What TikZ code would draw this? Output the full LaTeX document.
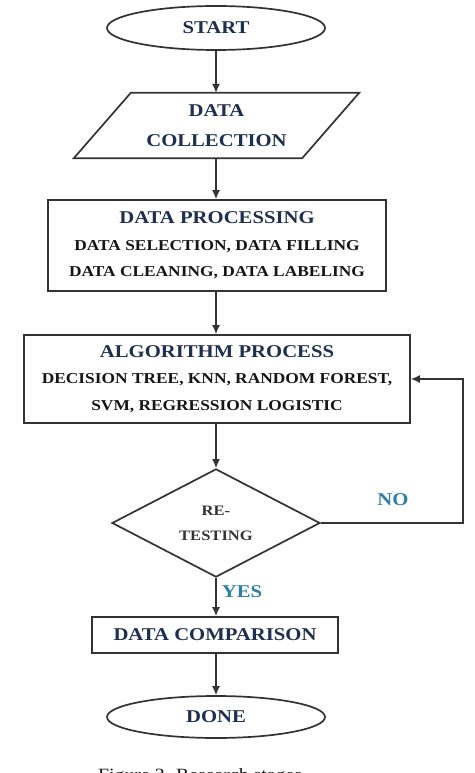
\documentclass[tikz,border=0pt]{standalone}
\usepackage{fontspec}
\setmainfont{Liberation Serif}[FakeStretch=1.15]
\usetikzlibrary{shapes.geometric,arrows.meta}
\definecolor{navy}{HTML}{1F2F4F}
\definecolor{ink}{HTML}{151515}
\definecolor{lineg}{HTML}{333333}
\definecolor{teal}{HTML}{2E80A6}
\tikzset{
  shapeline/.style={draw=lineg, line width=1.7pt},
  term/.style={shapeline, ellipse, inner sep=0pt, text=navy, font=\bfseries\fontsize{18}{20}\selectfont},
  procbox/.style={shapeline, rectangle, inner sep=0pt, align=center, text=ink, font=\bfseries\fontsize{15.1}{26.5}\selectfont},
  plain/.style={inner sep=0pt, align=center},
  decide/.style={shapeline, diamond, inner sep=0pt, align=center, text=lineg, font=\bfseries\fontsize{14.4}{25}\selectfont},
  flow/.style={draw=lineg, line width=1.4pt, -{Latex[length=9pt,width=8pt]}},
  answer/.style={text=teal, font=\bfseries\fontsize{18}{20}\selectfont, inner sep=0pt},
}
\newcommand{\bigttl}[1]{{\color{navy}\fontsize{18}{26.5}\selectfont #1}}
\begin{document}
\begin{tikzpicture}[x=1pt,y=-1pt]
\useasboundingbox (0,0) rectangle (474,773);
\fill[white] (0,0) rectangle (474,773);

\node[term, minimum width=218pt, minimum height=44pt] (start) at (216,28) {START};

\node[plain, minimum width=228pt, minimum height=65pt, text=navy,
      font=\bfseries\fontsize{18}{30}\selectfont] (coll) at (216.5,125.5) {DATA\\COLLECTION};
\draw[shapeline, line join=miter] ([xshift=28.5pt]coll.north west) -- ([xshift=28.5pt]coll.north east)
  -- ([xshift=-28.5pt]coll.south east) -- ([xshift=-28.5pt]coll.south west) -- cycle;

\node[procbox, minimum width=338pt, minimum height=91pt] (proc) at (217,245.5)
  {\bigttl{DATA PROCESSING}\\DATA SELECTION, DATA FILLING\\DATA CLEANING, DATA LABELING};

\node[procbox, minimum width=386pt, minimum height=88pt] (algo) at (217,379)
  {\bigttl{ALGORITHM PROCESS}\\DECISION TREE, KNN, RANDOM FOREST,\\SVM, REGRESSION LOGISTIC};

\node[decide, minimum width=208pt, minimum height=104pt] (test) at (216,523) {RE-\\TESTING};

\node[shapeline, rectangle, inner sep=0pt, minimum width=246pt, minimum height=36pt,
      text=navy, font=\bfseries\fontsize{18}{20}\selectfont] (comp) at (215,635) {DATA COMPARISON};

\node[term, minimum width=218pt, minimum height=42pt] (done) at (216,717) {DONE};

\coordinate (fb) at (463,523);

\draw[flow] (start.south) -- (start.south |- coll.north);
\draw[flow] (coll.south -| start.south) -- (start.south |- proc.north);
\draw[flow] (proc.south -| start.south) -- (start.south |- algo.north);
\draw[flow] (algo.south -| test.north) -- (test.north);
\draw[flow] (test.south) -- (test.south |- comp.north);
\draw[flow] (comp.south -| done.north) -- (done.north);
\draw[flow] (test.east) -- (fb) |- (algo.east);

\node[answer] (no) at (393,500) {NO};
\node[answer] (yes) at (242,592) {YES};

\node[anchor=base west, inner sep=0pt, text=ink, font=\fontsize{17.2}{20}\selectfont] (cap) at (98,780) {Figure 2. Research stages};
\end{tikzpicture}
\end{document}
